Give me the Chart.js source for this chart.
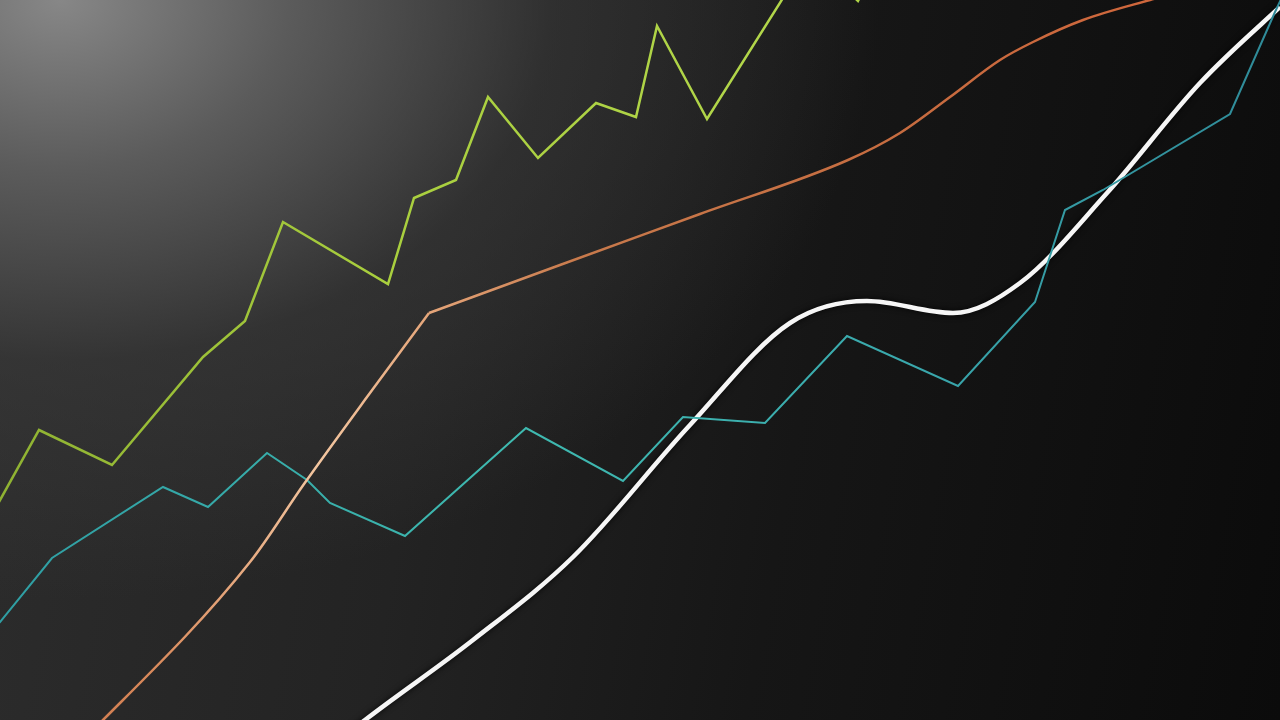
<!DOCTYPE html>
<html>
<head>
<meta charset="utf-8">
<title>Lines</title>
<script src="https://cdn.jsdelivr.net/npm/chart.js@4.4.1/dist/chart.umd.min.js"></script>
<style>
  html, body { margin: 0; padding: 0; width: 1280px; height: 720px; overflow: hidden; }
  body {
    background:
      radial-gradient(ellipse 820px 600px at 60px 0px, rgba(135,135,135,1) 0%, rgba(100,100,100,0.85) 28%, rgba(62,62,62,0.5) 60%, rgba(40,40,40,0) 100%),
      linear-gradient(100deg, #2d2d2d 0%, #232323 35%, #161616 62%, #0b0b0b 100%);
  }
  #chart { position: absolute; left: 0; top: 0; }
</style>
</head>
<body>
<canvas id="chart" width="1280" height="720"></canvas>
<script>
"use strict";

// values (x: 0..128, y: 0..72)
const greenX = [-1.5, 3.9, 11.2, 20.3, 24.5, 28.3, 38.8, 41.4, 45.6, 48.8, 53.8, 59.6, 63.6, 65.7, 70.7, 81.0, 85.8, 90.0];
const greenY = [19.3, 29.0, 25.5, 36.3, 39.9, 49.8, 43.6, 52.2, 54.0, 62.3, 56.2, 61.7, 60.3, 69.4, 60.1, 76.5, 71.9, 80.0];

// orange: curved climb, then the long straight run after the bend at x≈42.9
const orangeLowX = [6.0, 10.3, 25.0, 30.4, 36.7, 42.9];
const orangeLowY = [-4.0, 0.0, 15.8, 23.6, 32.3, 40.7];
const orangeHighX = [42.9, 56.0, 70.0, 84.8, 90.0, 95.0, 100.0, 103.3, 108.3, 115.0, 130.0];
const orangeHighY = [40.7, 45.5, 50.6, 56.0, 58.7, 62.3, 66.0, 67.8, 70.0, 72.0, 76.0];

const tealX = [-2.0, 0.0, 5.2, 16.3, 20.8, 26.7, 30.7, 33.0, 40.5, 52.6, 62.3, 68.3, 76.5, 84.7, 95.8, 103.5, 106.5, 110.3, 123.0, 127.5, 129.0];
const tealY = [7.5, 9.8, 16.2, 23.3, 21.3, 26.7, 24.0, 21.7, 18.4, 29.2, 23.9, 30.3, 29.7, 38.4, 33.4, 41.8, 51.0, 53.0, 60.6, 70.8, 74.0];

const whiteX = [34.0, 36.5, 47.3, 57.3, 69.0, 79.0, 86.7, 95.3, 102.0, 110.7, 120.0, 128.0, 131.0];
const whiteY = [-2.0, 0.0, 8.0, 16.3, 29.5, 39.7, 41.9, 40.7, 43.7, 52.7, 63.7, 71.3, 74.0];

function pts(xs, ys) {
  return xs.map((x, i) => ({ x, y: ys[i] }));
}

// horizontal gradient across the chart area
function hGrad(stops) {
  return (ctx) => {
    const area = ctx.chart.chartArea;
    if (!area) return stops[0][1];
    const g = ctx.chart.ctx.createLinearGradient(area.left, 0, area.right, 0);
    stops.forEach(([p, c]) => g.addColorStop(p, c));
    return g;
  };
}

const ORANGE = hGrad([[0, "#c2683e"], [0.12, "#d98a5c"], [0.25, "#f3c6a0"], [0.34, "#e4a478"], [0.45, "#c87a4c"], [0.7, "#c66c40"], [1, "#d4643a"]]);
const WHITE_INDEX = 4;

// soft dark halo under the white line
const haloPlugin = {
  id: "halo",
  beforeDatasetDraw(chart, args) {
    if (args.index !== WHITE_INDEX) return;
    chart.ctx.save();
    chart.ctx.shadowColor = "rgba(0,0,0,0.85)";
    chart.ctx.shadowBlur = 6;
  },
  afterDatasetDraw(chart, args) {
    if (args.index !== WHITE_INDEX) return;
    chart.ctx.restore();
  },
};

const datasets = [
  {
    label: "green",
    data: pts(greenX, greenY),
    borderColor: hGrad([[0, "#8fb232"], [0.3, "#a9cf3e"], [0.6, "#b2d64a"], [1, "#a6cc3c"]]),
    borderWidth: 2.5, tension: 0, borderJoinStyle: "miter",
  },
  {
    label: "orange",
    data: pts(orangeLowX, orangeLowY),
    borderColor: ORANGE, borderWidth: 2.5, cubicInterpolationMode: "monotone",
  },
  {
    label: "orange (upper)",
    data: pts(orangeHighX, orangeHighY),
    borderColor: ORANGE, borderWidth: 2.5, cubicInterpolationMode: "monotone",
  },
  {
    label: "teal",
    data: pts(tealX, tealY),
    borderColor: hGrad([[0, "#2f9ea3"], [0.4, "#3fbab0"], [0.7, "#3aa9ad"], [1, "#2f8a98"]]),
    borderWidth: 2, tension: 0, borderJoinStyle: "miter",
  },
  {
    label: "white",
    data: pts(whiteX, whiteY),
    borderColor: "#f6f6f6",
    borderWidth: 4.5, cubicInterpolationMode: "monotone",
  },
];

new Chart(document.getElementById("chart"), {
  type: "line",
  data: { datasets },
  options: {
    responsive: false,
    animation: false,
    layout: { padding: 0 },
    elements: { point: { radius: 0, hoverRadius: 0 } },
    plugins: { legend: { display: false }, tooltip: { enabled: false } },
    scales: {
      x: { type: "linear", min: 0, max: 128, display: false },
      y: { type: "linear", min: 0, max: 72, display: false },
    },
  },
  plugins: [haloPlugin],
});
</script>
</body>
</html>
